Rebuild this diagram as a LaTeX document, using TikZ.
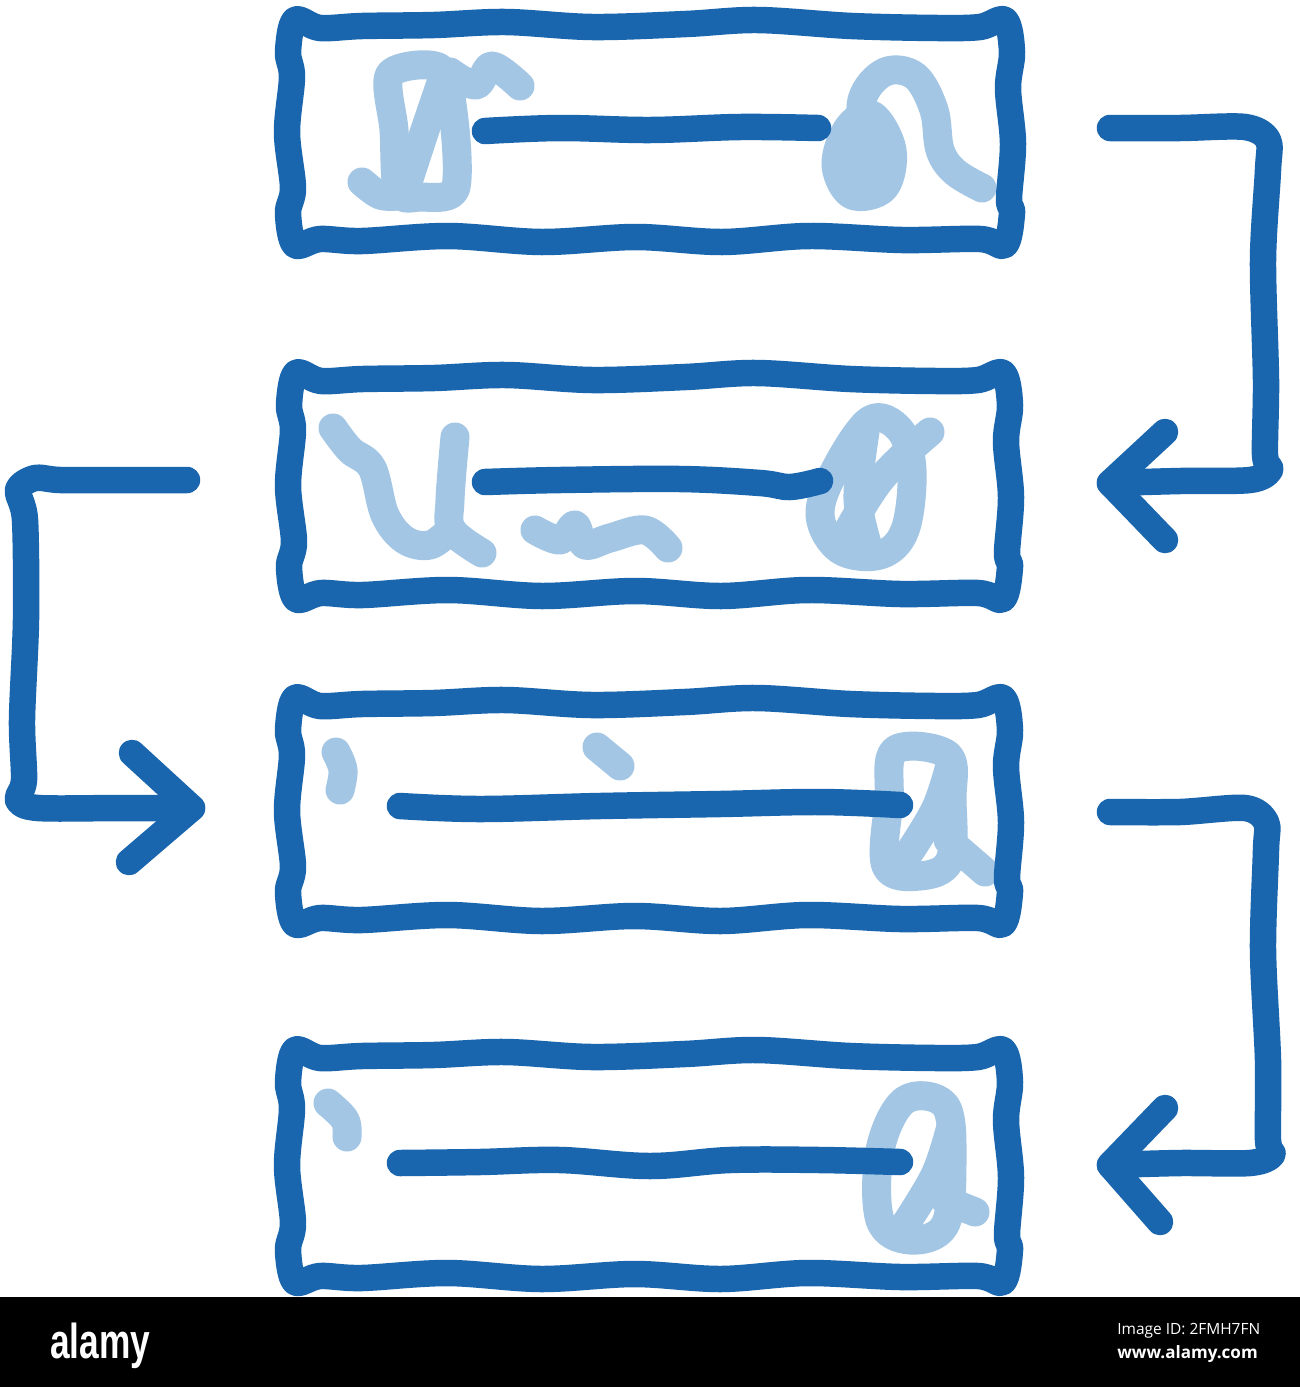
\documentclass[tikz,border=0pt]{standalone}
\usepackage{fontspec}
\setmainfont{Liberation Sans}
\newfontfamily\opensans{Open Sans}
\definecolor{dk}{RGB}{26,102,174}
\definecolor{lt}{RGB}{163,198,228}
\newcommand{\wavybox}[4]{%
\draw[dk] plot[smooth cycle, tension=0.55] coordinates {
({#1+5},{#2-2}) ({#1+30},{#2+6}) ({#1+0.1*(#3-#1)},{#2+4}) ({#1+0.2*(#3-#1)},{#2+3})
({#1+0.3*(#3-#1)},{#2}) ({#1+0.42*(#3-#1)},{#2+5}) ({#1+0.55*(#3-#1)},{#2+2})
({#1+0.65*(#3-#1)},{#2-2}) ({#1+0.78*(#3-#1)},{#2+4}) ({#1+0.9*(#3-#1)},{#2+6})
({#3-30},{#2+5}) ({#3-5},{#2-2})
({#3+2},{#2+30}) ({#3-2},{#2+0.3*(#4-#2)}) ({#3+3},{#2+0.55*(#4-#2)}) ({#3-1},{#2+0.8*(#4-#2)}) ({#3+2},{#4-30})
({#3-5},{#4+2}) ({#3-30},{#4-4}) ({#1+0.85*(#3-#1)},{#4-3}) ({#1+0.72*(#3-#1)},{#4-7})
({#1+0.6*(#3-#1)},{#4-1}) ({#1+0.48*(#3-#1)},{#4-6}) ({#1+0.35*(#3-#1)},{#4-1})
({#1+0.22*(#3-#1)},{#4-7}) ({#1+0.1*(#3-#1)},{#4-2}) ({#1+30},{#4-4}) ({#1+5},{#4+2})
({#1-2},{#4-30}) ({#1+3},{#2+0.75*(#4-#2)}) ({#1-3},{#2+0.5*(#4-#2)}) ({#1+2},{#2+0.25*(#4-#2)}) ({#1-2},{#2+30})
};}
\begin{document}
\begin{tikzpicture}[x=0.02cm,y=-0.02cm,
  dk/.style={draw=dk,line width=0.53cm,line cap=round,line join=round},
  lt/.style={draw=lt,line width=0.58cm,line cap=round,line join=round},
  sm/.style={smooth,tension=0.6}]
\useasboundingbox (0,0) rectangle (1300,1387);
\fill[white] (0,0) rectangle (1300,1297);
\fill[black] (0,1297) rectangle (1300,1387);

% ---- light blue scribbles ----
% box 1
\draw[lt] plot[smooth cycle,tension=0.5] coordinates {(390,74) (440,68) (454,120) (455,190) (420,197) (398,192) (394,130)};
\draw[lt] plot[sm] coordinates {(442,80) (425,130) (407,185)};
\draw[lt] plot[sm] coordinates {(362,182) (380,195) (398,196)};
\draw[lt] plot[sm] coordinates {(450,72) (476,85) (492,66) (520,86)};
\path[lt,fill=lt] plot[smooth cycle,tension=0.6] coordinates {(836,165) (848,128) (872,115) (892,150) (884,188) (852,195)};
\draw[lt] plot[sm] coordinates {(864,150) (862,100) (885,72) (915,76) (934,110) (940,150) (955,172) (982,188)};
% box 2
\draw[lt] plot[sm] coordinates {(333,428) (350,450) (372,468) (385,515) (405,540) (430,545) (450,530)};
\draw[lt] plot[sm] coordinates {(455,437) (450,500) (452,530) (482,553)};
\draw[lt] plot[sm] coordinates {(535,530) (560,540) (575,525) (585,545) (610,538) (645,530) (668,548)};
\draw[lt] plot[smooth cycle,tension=0.6] coordinates {(870,420) (900,430) (912,470) (905,530) (880,555) (840,550) (820,515) (835,470)};
\draw[lt] plot[sm] coordinates {(840,545) (880,480) (930,432)};
\draw[lt] plot[sm] coordinates {(865,432) (858,500) (870,553)};
% box 3
\draw[lt] plot[sm] coordinates {(336,752) (343,770) (340,790)};
\draw[lt] (597,747) -- (620,766);
\draw[lt] plot[smooth cycle,tension=0.6] coordinates {(895,750) (948,755) (952,800) (950,860) (920,876) (886,866) (889,800)};
\draw[lt] plot[sm] coordinates {(903,862) (935,810) (950,765)};
\draw[lt] plot[sm] coordinates {(948,840) (985,872)};
% box 4
\draw[lt] plot[sm] coordinates {(328,1103) (345,1120) (347,1137)};
\draw[lt] plot[smooth cycle,tension=0.6] coordinates {(905,1100) (945,1105) (952,1160) (945,1225) (910,1240) (880,1220) (880,1150)};
\draw[lt] plot[sm] coordinates {(905,1225) (935,1175) (950,1130)};
\draw[lt] plot[sm] coordinates {(945,1200) (975,1212)};

% ---- boxes ----
\wavybox{290}{22}{1010}{243}
\wavybox{291}{375}{1008}{597}
\wavybox{290}{700}{1008}{922}
\wavybox{290}{1052}{1008}{1280}

% inner lines
\coordinate (l1a) at (485,131); \coordinate (l1b) at (818,128);
\coordinate (l2a) at (485,482); \coordinate (l2b) at (820,481);
\coordinate (l3a) at (400,806); \coordinate (l3b) at (900,805);
\coordinate (l4a) at (400,1163); \coordinate (l4b) at (900,1162);
\draw[dk] plot[sm] coordinates {(l1a) (560,128) (650,130) (740,127) (l1b)};
\draw[dk] plot[sm] coordinates {(l2a) (560,480) (680,479) (760,483) (790,487) (l2b)};
\draw[dk] plot[sm] coordinates {(l3a) (480,809) (600,806) (720,804) (820,802) (l3b)};
\draw[dk] plot[sm] coordinates {(l4a) (480,1162) (560,1160) (650,1166) (730,1160) (820,1160) (l4b)};

% ---- connectors ----
\coordinate (c1s) at (1110,128); \coordinate (c1e) at (1110,483);
\draw[dk] plot[smooth,tension=0.5] coordinates {(c1s) (1180,128) (1245,127) (1268,140) (1268,170) (1263,260) (1266,380) (1265,455) (1270,470) (1250,480) (1180,481) (c1e)};
\draw[dk] (1165,432) -- (c1e) -- (1165,540);

\coordinate (c2s) at (187,480); \coordinate (c2e) at (192,808);
\draw[dk] plot[smooth,tension=0.5] coordinates {(c2s) (120,480) (60,480) (35,478) (18,490) (25,520) (26,620) (22,720) (24,780) (18,800) (38,808) (120,808) (c2e)};
\draw[dk] (132,753) -- (c2e) -- (129,862);

\coordinate (c3s) at (1110,812); \coordinate (c3e) at (1110,1165);
\draw[dk] plot[smooth,tension=0.5] coordinates {(c3s) (1180,812) (1245,808) (1266,822) (1266,850) (1263,950) (1268,1060) (1268,1140) (1272,1155) (1250,1163) (1180,1163) (c3e)};
\draw[dk] (1165,1108) -- (c3e) -- (1160,1222);

% ---- footer ----
\node[anchor=base west,inner sep=0,text=white,font=\fontsize{27.9}{30}\selectfont\bfseries] (logo) at (50,1358) {\scalebox{0.72}[1]{alamy}};
\node[anchor=base west,inner sep=0,text=white,font=\opensans\fontsize{8.8}{10}\selectfont] (imgid) at (1117,1334) {Image ID: 2FMH7FN};
\node[anchor=base west,inner sep=0,text=white,font=\opensans\fontsize{9.7}{11}\selectfont\bfseries] (url) at (1117,1358) {www.alamy.com};
\end{tikzpicture}
\end{document}
